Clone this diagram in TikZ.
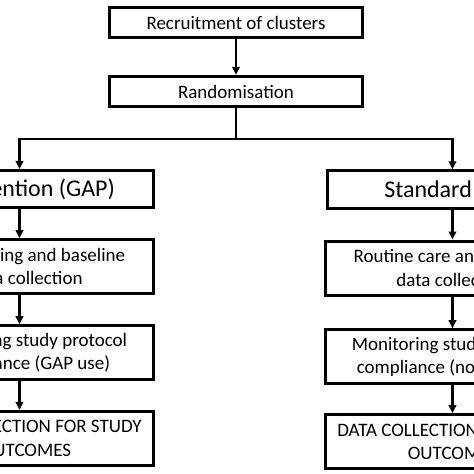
\documentclass[tikz,border=0pt]{standalone}
\usepackage{fontspec}
\setmainfont{Carlito}
\usetikzlibrary{arrows.meta}
\begin{document}
\begin{tikzpicture}[x=1pt,y=-1pt,
  box/.style={draw=black, line width=3pt, fill=white, inner sep=0pt, align=center,
    font=\fontsize{19}{23.3}\selectfont},
  topbox/.style={box, minimum width=253pt, minimum height=30.5pt},
  sidebox/.style={box, minimum width=255pt, minimum height=54pt},
  hdr/.style={box, minimum height=37.5pt, font=\fontsize{24}{28}\selectfont},
  conn/.style={line width=2.2pt, line join=miter},
  arr/.style={conn, -{Triangle[length=8pt,width=7.5pt]}}]
\useasboundingbox (0,0) rectangle (474,474);
\clip (0,0) rectangle (474,474);
% top
\node[topbox] (r1) at (236,22.5) {Recruitment of clusters};
\node[topbox] (r2) at (236,91.5) {Randomisation};
% columns
\coordinate (sl) at (19.5,139);
\coordinate (sr) at (452.5,139);
% left arm
\node[hdr, minimum width=259pt] (L1) at (24,189.2) {Intervention (GAP)};
\node[sidebox] (L2) at (26,266.7) {GAP training and baseline\\data collection};
\node[sidebox] (L3) at (26,352.7) {Monitoring study protocol\\compliance (GAP use)};
\node[sidebox] (L4) at (26,438.4) {DATA COLLECTION FOR STUDY\\OUTCOMES};
% right arm
\node[hdr, minimum width=249pt] (R1) at (451.5,189.5) {Standard care};
\node[sidebox] (R2) at (453,268) {Routine care and baseline\\data collection};
\node[sidebox] (R3) at (453,356.7) {Monitoring study protocol\\compliance (no GAP use)};
\node[sidebox] (R4) at (453,441.7) {DATA COLLECTION FOR STUDY\\OUTCOMES};
% connectors
\draw[arr] (r1) -- (r2);
\draw[arr] (r2.south) |- (sl) -- (sl |- L1.north);
\draw[arr] (r2.south) |- (sr) -- (sr |- R1.north);
\draw[arr] (sl |- L1.south) -- (sl |- L2.north);
\draw[arr] (sl |- L2.south) -- (sl |- L3.north);
\draw[arr] (sl |- L3.south) -- (sl |- L4.north);
\draw[arr] (sr |- R1.south) -- (sr |- R2.north);
\draw[arr] (sr |- R2.south) -- (sr |- R3.north);
\draw[arr] (sr |- R3.south) -- (sr |- R4.north);
\end{tikzpicture}
\end{document}
